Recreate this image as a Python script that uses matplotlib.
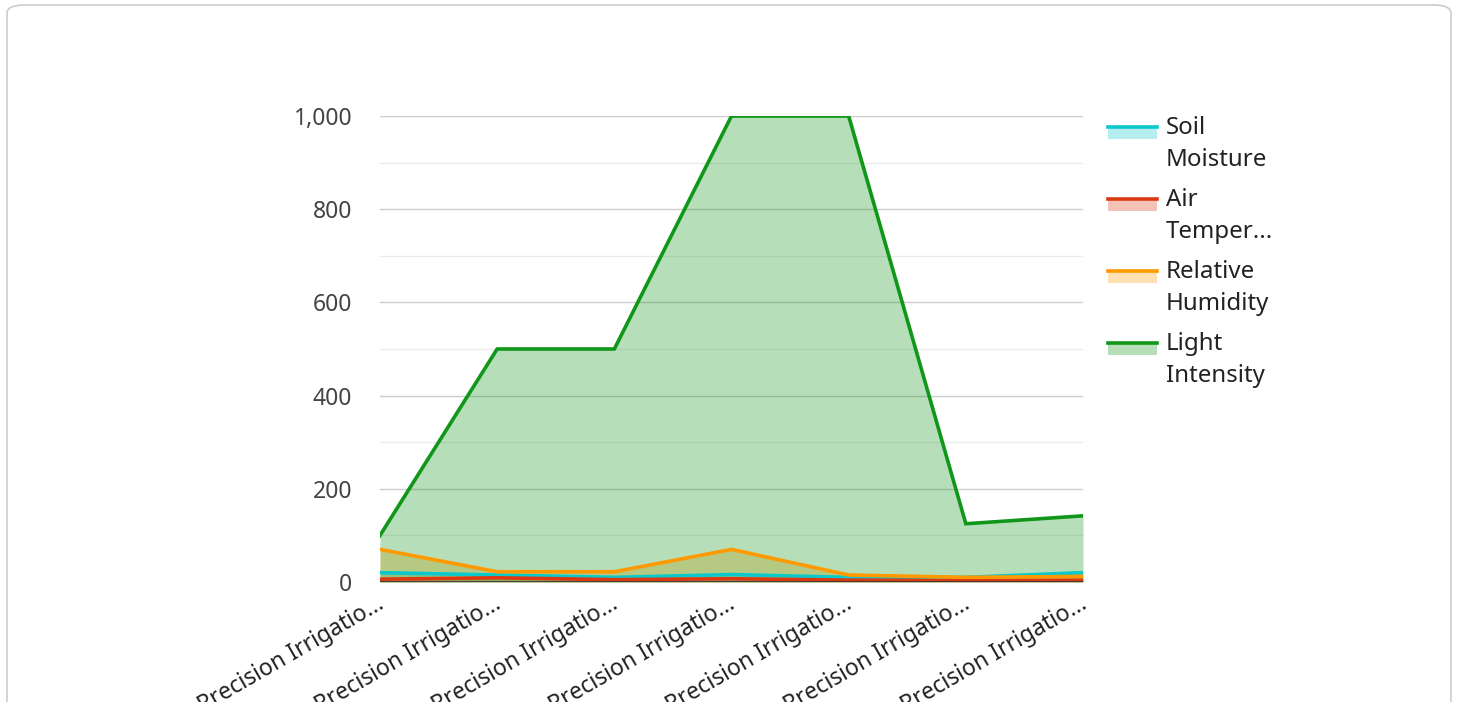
import matplotlib.pyplot as plt
import matplotlib.transforms as mtransforms
from matplotlib.patches import FancyBboxPatch, Rectangle
from matplotlib.lines import Line2D
from matplotlib.ticker import FuncFormatter, MultipleLocator

plt.rcParams["font.family"] = ["Noto Sans", "DejaVu Sans"]

categories = ["Precision Irrigatio..."] * 7
soil_moisture = [20, 15, 10, 16, 10, 10, 20]
air_temperature = [6, 9, 5, 7, 4, 3, 4]
relative_humidity = [70, 22, 22, 70, 15, 10, 12]
light_intensity = [100, 500, 500, 1000, 1000, 125, 142]

series_names = ["Soil\nMoisture", "Air\nTemper...", "Relative\nHumidity", "Light\nIntensity"]
series_values = [soil_moisture, air_temperature, relative_humidity, light_intensity]
colors = ["#0bc8cb", "#dc3912", "#ff9900", "#109618"]

W, H = 1458, 702
fig = plt.figure(figsize=(W / 100, H / 100), dpi=100)

# card background, bottom edge runs off the image
card = FancyBboxPatch((7 / W, -40 / H), 1444 / W, (H - 5 + 40) / H,
                      boxstyle="round,pad=0,rounding_size=0.012",
                      transform=fig.transFigure, facecolor="white",
                      edgecolor="#cccccc", linewidth=1.2, zorder=0)
fig.add_artist(card)

ax = fig.add_axes([380 / W, 1 - 582 / H, 703 / W, (582 - 116) / H])
ax.set_facecolor("none")

x = list(range(len(categories)))
for vals, c in zip(series_values, colors):
    ax.fill_between(x, 0, vals, color=c, alpha=0.3, linewidth=0, zorder=2)
for vals, c in zip(series_values, colors):
    ax.plot(x, vals, color=c, linewidth=2.6, zorder=3, solid_joinstyle="miter")

ax.set_xlim(0, len(categories) - 1)
ax.set_ylim(0, 1000)
ax.yaxis.set_major_locator(MultipleLocator(200))
ax.yaxis.set_minor_locator(MultipleLocator(100))
ax.yaxis.set_major_formatter(FuncFormatter(lambda v, p: f"{int(v):,}"))
ax.grid(which="major", axis="y", color="#cccccc", linewidth=1, zorder=1)
ax.grid(which="minor", axis="y", color="#ebebeb", linewidth=1, zorder=1)
ax.axhline(0, color="#333333", linewidth=1.2, zorder=4)

for s in ax.spines.values():
    s.set_visible(False)
ax.tick_params(axis="both", which="both", length=0)
ax.tick_params(axis="y", labelsize=16.5, labelcolor="#444444", pad=20)
ax.set_xticks(x)
ax.set_xticklabels(categories, rotation=30, ha="right", rotation_mode="anchor",
                   fontsize=16.5, color="#222222")
ax.tick_params(axis="x", pad=7)
shift = mtransforms.ScaledTranslation(-4 / 100, 0, fig.dpi_scale_trans)
for lbl in ax.get_xticklabels():
    lbl.set_transform(lbl.get_transform() + shift)

# legend drawn by hand: line on top of a pale box
leg_x0, leg_x1 = 1108, 1157
leg_tops = [126, 198, 270, 342]
for name, c, top in zip(series_names, colors, leg_tops):
    fig.add_artist(Rectangle((leg_x0 / W, 1 - (top + 13) / H), (leg_x1 - leg_x0) / W, 13 / H,
                             transform=fig.transFigure, facecolor=c, alpha=0.3,
                             edgecolor="none"))
    fig.add_artist(Line2D([leg_x0 / W, leg_x1 / W], [1 - (top + 1) / H] * 2,
                          transform=fig.transFigure, color=c, linewidth=2.6))
    fig.text(1166 / W, 1 - (top - 10) / H, name, fontsize=17.3, color="#222222",
             va="top", ha="left", linespacing=1.42)

fig.savefig("out.png", dpi=100)
